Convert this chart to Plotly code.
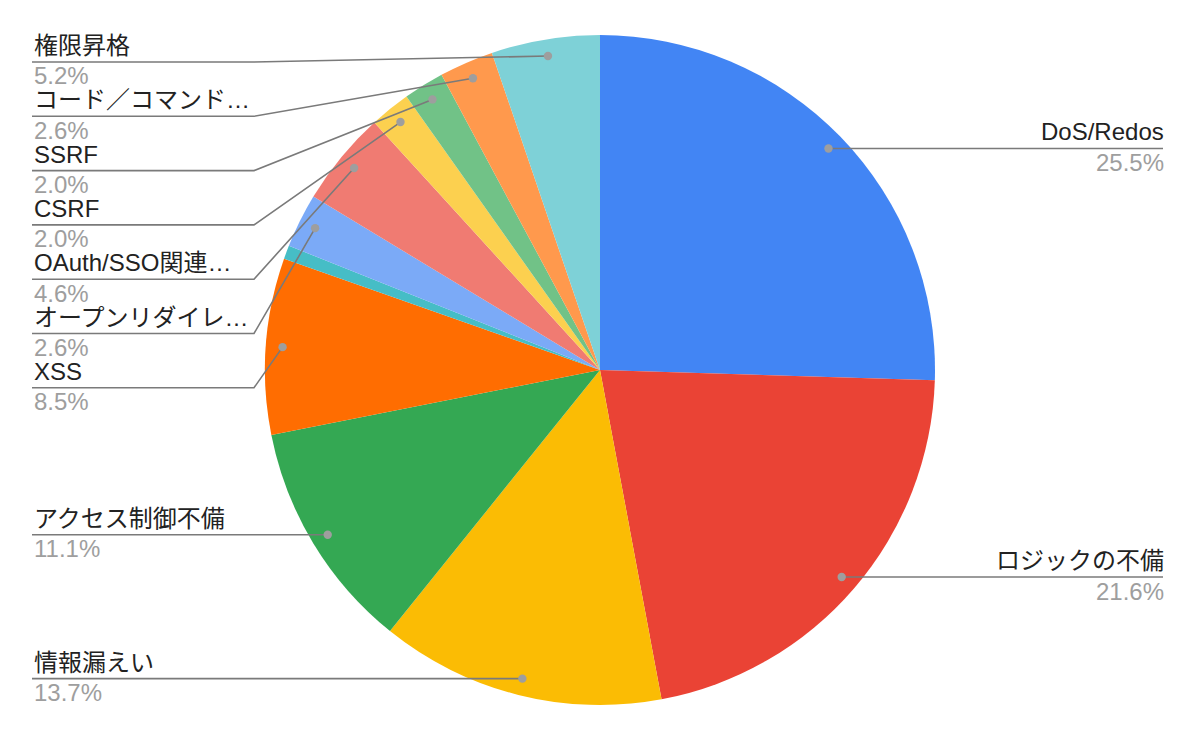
import math
import plotly.graph_objects as go

# ---- data ----
labels = ["DoS/Redos", "ロジックの不備", "情報漏えい", "アクセス制御不備", "XSS", "その他",
          "オープンリダイレ…", "OAuth/SSO関連…", "CSRF", "SSRF", "コード／コマンド…", "権限昇格"]
values = [39, 33, 21, 17, 13, 1, 4, 7, 3, 3, 4, 8]
colors = ["#4285F4", "#EA4335", "#FBBC04", "#34A853", "#FF6D01", "#46BDC6",
          "#7BAAF7", "#F07B72", "#FCD04F", "#71C287", "#FF994D", "#7ED1D7"]

# ---- layout constants (pixels, in screen coordinates) ----
W, H = 1200, 740
OFF = 8  # page body margin
CX, CY, R = 600, 370, 335
DOT_R = 0.95 * R
LEFT_X, RIGHT_X = 32, 1163
BEND_X = 254
GAP = 54.3
TOP_Y = 62
FONT = "Liberation Sans, Arial, Noto Sans CJK JP, sans-serif"
FS = 24


def px(x):
    return (x - OFF) / W


def py(y):
    return 1 - (y - OFF) / H


fig = go.Figure(go.Pie(
    labels=labels, values=values, sort=False, direction="clockwise", rotation=0,
    marker=dict(colors=colors, line=dict(width=0)), textinfo="none",
    hoverinfo="label+percent",
    domain=dict(x=[px(CX - R), px(CX + R)], y=[py(CY + R), py(CY - R)]),
    showlegend=False,
))

total = sum(values)
items = []
cum = 0
for lab, v in zip(labels, values):
    mid = (cum + v / 2) / total * 2 * math.pi
    cum += v
    share = v / total
    if share < 0.01:
        continue
    dx = CX + DOT_R * math.sin(mid)
    dy = CY - DOT_R * math.cos(mid)
    items.append(dict(label=lab, pct=f"{share * 100:.1f}%", dx=dx, dy=dy,
                      side="left" if dx < CX else "right"))

shapes = []
annotations = []
for side in ("left", "right"):
    group = sorted([it for it in items if it["side"] == side], key=lambda d: d["dy"])
    prev = None
    for it in group:
        ly = max(it["dy"], TOP_Y if prev is None else prev + GAP)
        prev = ly
        if side == "left":
            tx, anchor = LEFT_X + 1, "left"
            if abs(ly - it["dy"]) > 0.5:
                path = (f"M {px(LEFT_X)} {py(ly)} L {px(BEND_X)} {py(ly)} "
                        f"L {px(it['dx'])} {py(it['dy'])}")
            else:
                path = f"M {px(LEFT_X)} {py(ly)} L {px(it['dx'])} {py(it['dy'])}"
        else:
            tx, anchor = RIGHT_X + 2, "right"
            path = f"M {px(it['dx'])} {py(it['dy'])} L {px(RIGHT_X)} {py(ly)}"
        shapes.append(dict(type="path", path=path, xref="paper", yref="paper",
                           line=dict(color="#7a7a7a", width=1.6)))
        rd = 4.2
        shapes.append(dict(type="circle", xref="paper", yref="paper",
                           x0=px(it["dx"] - rd), x1=px(it["dx"] + rd),
                           y0=py(it["dy"] + rd), y1=py(it["dy"] - rd),
                           fillcolor="#9e9e9e", line=dict(width=0)))
        annotations.append(dict(x=px(tx), y=py(ly - 16.5), xref="paper", yref="paper",
                                text=it["label"], showarrow=False, xanchor=anchor,
                                yanchor="middle", borderpad=0,
                                font=dict(family=FONT, size=FS, color="#222222")))
        annotations.append(dict(x=px(tx), y=py(ly + 14), xref="paper", yref="paper",
                                text=it["pct"], showarrow=False, xanchor=anchor,
                                yanchor="middle", borderpad=0,
                                font=dict(family=FONT, size=FS, color="#9e9e9e")))

fig.update_layout(
    width=W, height=H, margin=dict(l=0, r=0, t=0, b=0),
    paper_bgcolor="white", plot_bgcolor="white",
    shapes=shapes, annotations=annotations,
)
fig.write_html("out.html")
